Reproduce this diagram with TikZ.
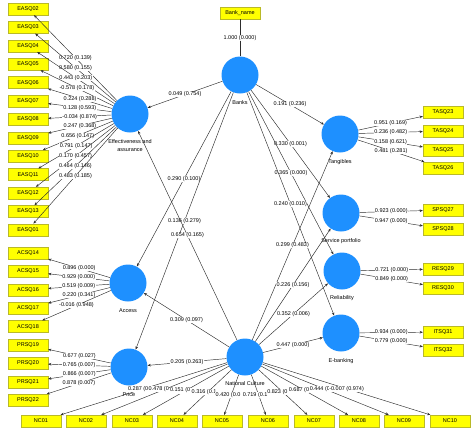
\documentclass[tikz,border=0pt]{standalone}
\usepackage{fontspec}
\setmainfont{Liberation Sans}
\usetikzlibrary{calc,arrows.meta}
\definecolor{cblue}{RGB}{30,144,255}
\definecolor{byel}{RGB}{255,255,0}
\definecolor{bdr}{RGB}{185,185,40}
\definecolor{lnc}{RGB}{45,45,45}
\newcommand\smallf{\fontsize{5.5}{6.5}\selectfont}
\begin{document}
\begin{tikzpicture}[x=1pt,y=-1pt,
  lv/.style={circle,fill=cblue,minimum size=37pt,inner sep=0},
  mv/.style={rectangle,fill=byel,draw=bdr,line width=0.3pt,minimum width=40pt,minimum height=12pt,inner sep=0,font=\smallf},
  lab/.style={fill=white,inner sep=0.4pt,font=\smallf},
  nm/.style={inner sep=0,font=\smallf,align=center,anchor=north},
  arr/.style={draw=lnc,line width=0.45pt,-{Stealth[length=3.2pt,width=2.6pt]}},
  pln/.style={draw=lnc,line width=0.45pt}]
\useasboundingbox (0,0) rectangle (474,432);

% latent variables
\node[lv] (banks) at (240,75) {};
\node[lv] (eff) at (130,114) {};
\node[lv] (acc) at (128,283) {};
\node[lv] (price) at (129,367) {};
\node[lv] (natc) at (245,357) {};
\node[lv] (tang) at (340,134) {};
\node[lv] (sp) at (341,213) {};
\node[lv] (rel) at (342,271) {};
\node[lv] (eb) at (341,333) {};

\node[nm] (banksN) at ($(banks.south)+(0,7)$) {Banks};
\node[nm,font=\fontsize{5.5}{8.5}\selectfont] (effN) at ($(eff.south)+(0,6.5)$) {Effectiveness and\\assurance};
\node[nm] (accN) at ($(acc.south)+(0,7)$) {Access};
\node[nm] (priceN) at ($(price.south)+(0,7)$) {Price};
\node[nm] (natcN) at ($(natc.south)+(0,6)$) {National Culture};
\node[nm] (tangN) at ($(tang.south)+(0,7)$) {Tangibles};
\node[nm] (spN) at ($(sp.south)+(0,6.5)$) {Service portfolio};
\node[nm] (relN) at ($(rel.south)+(0,6)$) {Reliability};
\node[nm] (ebN) at ($(eb.south)+(0,7)$) {E-banking};

% indicators
\node[mv] (bankname) at (240,13) {Bank\_name};
\foreach \n/\y in {EASQ02/9,EASQ03/27.4,EASQ04/45.8,EASQ05/64.2,EASQ06/82.6,EASQ07/101,EASQ08/119.4,EASQ09/137.8,EASQ10/156.2,EASQ11/174.6,EASQ12/193,EASQ13/211.4,EASQ01/229.8,ACSQ14/253,ACSQ15/271.4,ACSQ16/289.8,ACSQ17/308.2,ACSQ18/326.6,PRSQ19/345,PRSQ20/363.4,PRSQ21/381.8,PRSQ22/400.2}
  {\node[mv] (\n) at (28,\y) {\n};}
\foreach \n/\y in {TASQ23/112,TASQ24/131,TASQ25/150,TASQ26/168,SPSQ27/210,SPSQ28/229,RESQ29/269,RESQ30/288,ITSQ31/332,ITSQ32/350}
  {\node[mv] (\n) at (443,\y) {\n};}
\foreach \i/\x in {01/41,02/86,03/132,04/177,05/222,06/268,07/314,08/359,09/404,10/450}
  {\node[mv] (NC\i) at (\x,421) {NC\i};}

% outer model
\draw[pln] (banks) -- node[lab] (lbank) {1.000 (0.000)} (bankname);
\foreach \n/\t in {EASQ02/0.720 (0.139),EASQ03/0.580 (0.155),EASQ04/0.443 (0.203),EASQ05/-0.578 (0.178),EASQ06/0.224 (0.288),EASQ07/0.128 (0.593),EASQ08/-0.034 (0.874),EASQ09/0.247 (0.368),EASQ10/0.656 (0.147),EASQ11/0.791 (0.147),EASQ12/0.170 (0.457),EASQ13/0.464 (0.146),EASQ01/0.483 (0.185)}
  {\draw[arr] (eff) -- node[lab] (l\n) {\t} (\n);}
\foreach \n/\t in {ACSQ14/0.896 (0.000),ACSQ15/0.929 (0.000),ACSQ16/0.519 (0.009),ACSQ17/0.220 (0.341),ACSQ18/-0.016 (0.948)}
  {\draw[arr] (acc) -- node[lab] (l\n) {\t} (\n);}
\foreach \n/\t in {PRSQ19/0.677 (0.027),PRSQ20/0.765 (0.007),PRSQ21/0.866 (0.007),PRSQ22/0.878 (0.007)}
  {\draw[arr] (price) -- node[lab] (l\n) {\t} (\n);}
\foreach \n/\t in {TASQ23/0.951 (0.169),TASQ24/0.236 (0.482),TASQ25/0.158 (0.621),TASQ26/0.481 (0.281)}
  {\draw[arr] (tang) -- node[lab] (l\n) {\t} (\n);}
\foreach \n/\t in {SPSQ27/0.923 (0.000),SPSQ28/0.947 (0.000)}
  {\draw[arr] (sp) -- node[lab] (l\n) {\t} (\n);}
\foreach \n/\t in {RESQ29/0.721 (0.000),RESQ30/0.849 (0.000)}
  {\draw[arr] (rel) -- node[lab] (l\n) {\t} (\n);}
\foreach \n/\t in {ITSQ31/0.934 (0.000),ITSQ32/0.779 (0.000)}
  {\draw[arr] (eb) -- node[lab] (l\n) {\t} (\n);}
\foreach \i/\t in {01/0.287 (0,02/0.478 (0,03/0.151 (0,04/0.316 (0.1,05/0.420 (0.0,06/0.719 (0.1,07/0.823 (0,08/0.687 (0,09/0.444 (0}
  {\draw[arr] (natc) -- node[lab,anchor=west,xshift=-16.4pt] (lNC\i) {\t} (NC\i);}
\draw[arr] (natc) -- node[lab] (lNC10) {-0.007 (0.974)} (NC10);

% inner model
\draw[arr] (banks) -- node[lab] (p1) {0.049 (0.754)} (eff);
\draw[arr] (banks) -- node[lab] (p2) {0.191 (0.236)} (tang);
\draw[arr] (banks) -- node[lab] (p3) {0.290 (0.100)} (acc);
\draw[arr] (banks) -- node[lab] (p4) {0.136 (0.279)} (price);
\draw[arr] (banks) -- node[lab] (p5) {0.330 (0.001)} (sp);
\draw[arr] (banks) -- node[lab] (p6) {0.365 (0.000)} (rel);
\draw[arr] (banks) -- node[lab] (p7) {0.240 (0.010)} (eb);
\draw[arr] (natc) -- node[lab] (p8) {0.654 (0.165)} (eff);
\draw[arr] (natc) -- node[lab] (p9) {0.309 (0.097)} (acc);
\draw[arr] (natc) -- node[lab] (p10) {0.205 (0.263)} (price);
\draw[arr] (natc) -- node[lab] (p11) {0.299 (0.483)} (tang);
\draw[arr] (natc) -- node[lab] (p12) {0.226 (0.156)} (sp);
\draw[arr] (natc) -- node[lab] (p13) {0.352 (0.006)} (rel);
\draw[arr] (natc) -- node[lab] (p14) {0.447 (0.000)} (eb);
\end{tikzpicture}
\end{document}
